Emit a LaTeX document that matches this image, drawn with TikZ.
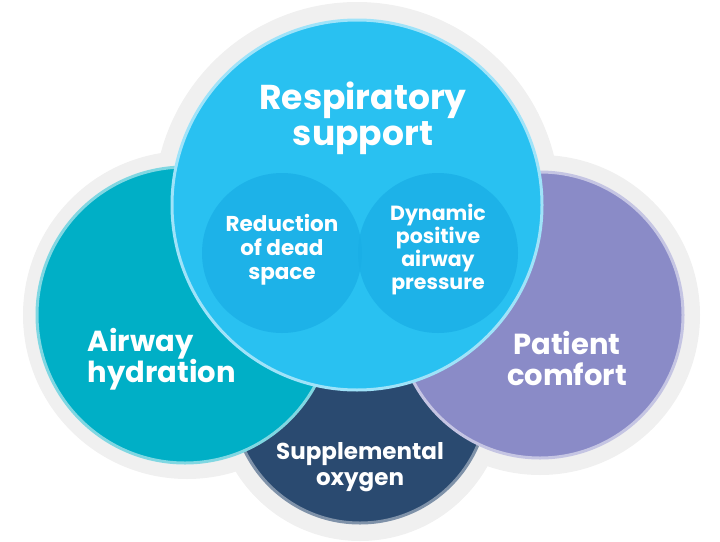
\documentclass[tikz,border=0pt]{standalone}
\usepackage{fontspec}
\setmainfont{Poppins}
\begin{document}
\begin{tikzpicture}[x=1pt,y=-1pt,
  halo/.style={fill=gray!12,draw=none},
  disc/.style={draw=white,line width=3pt},
  lbl/.style={text=white,font=\bfseries,align=center,inner sep=0pt}]
\useasboundingbox (0,0) rectangle (720,541);
\definecolor{top}{HTML}{29C1F1}
\definecolor{inner}{HTML}{1AAFE6}
\definecolor{teal}{HTML}{00AFC6}
\definecolor{purp}{HTML}{8A8BC7}
\definecolor{navy}{HTML}{2A4A70}
% halos
\fill[halo] (357,205) circle (203);
\fill[halo] (187,315) circle (164);
\fill[halo] (540,315) circle (160);
\fill[halo] (360,395) circle (146);
% discs
\draw[disc,fill=navy,draw=navy!60!white] (360,395) circle (128);
\draw[disc,fill=teal,draw=teal!50!white] (185,315) circle (148);
\draw[disc,fill=purp,draw=purp!50!white] (540,315) circle (143);
\draw[disc,fill=top,draw=top!45!white] (357,205) circle (185);
\fill[inner,opacity=0.8] (282,253) circle (80);
\fill[inner,opacity=0.8] (438,253) circle (80);
% labels
\node[lbl,font=\bfseries\fontsize{34.5}{36}\selectfont] (rs) at (363,118) {Respiratory\\support};
\node[lbl,font=\bfseries\fontsize{21.5}{24}\selectfont] (rd) at (282,250) {Reduction\\of dead\\space};
\node[lbl,font=\bfseries\fontsize{20.5}{23}\selectfont] (dp) at (438,250) {Dynamic\\positive\\airway\\pressure};
\node[lbl,align=left,font=\bfseries\fontsize{29}{31}\selectfont] (ah) at (162,359) {Airway\\hydration};
\node[lbl,font=\bfseries\fontsize{29}{31}\selectfont] (pc) at (567,358) {Patient\\comfort};
\node[lbl,font=\bfseries\fontsize{23}{26}\selectfont] (so) at (360,467) {Supplemental\\oxygen};
\end{tikzpicture}
\end{document}
